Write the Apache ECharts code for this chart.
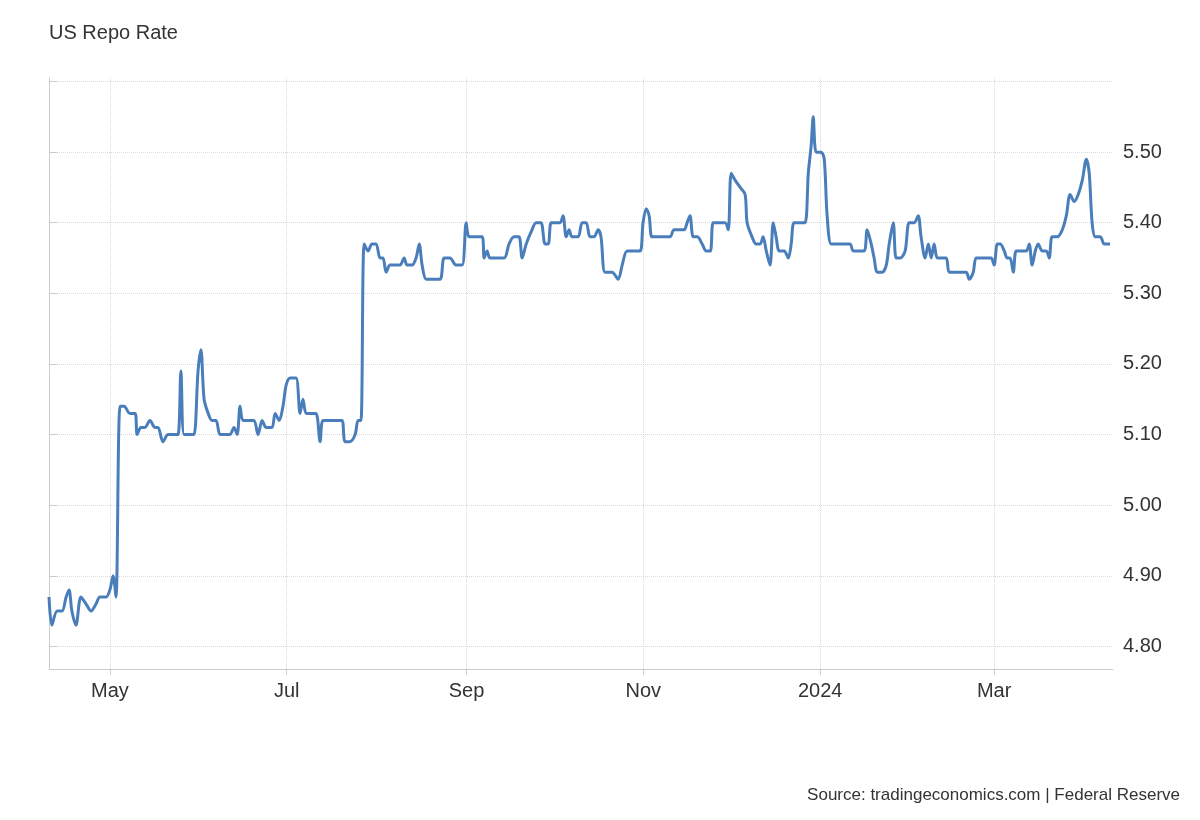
<!DOCTYPE html>
<html>
<head>
<meta charset="utf-8">
<script src="https://cdn.jsdelivr.net/npm/echarts@6/dist/echarts.min.js"></script>
<style>html,body{margin:0;background:#fff}#chart{width:1200px;height:820px}</style>
</head>
<body>
<div id="chart"></div>
<script>
// days since 2023-04-10
var days = [0,1.0,2.8,4.5,5.9,6.9,7.9,9.3,11.0,12.8,14.5,16.2,17.6,19.7,21.0,22.1,23.1,24.5,25.9,27.9,29.7,30.4,31.7,33.1,34.8,36.6,37.6,39.3,41.1,43.1,44.5,45.5,46.6,48.6,50.0,51.4,52.4,53.5,54.9,56.2,57.6,59.0,60.7,62.4,63.8,64.9,65.9,66.9,68.7,70.7,72.1,73.5,74.9,76.9,78.0,79.4,80.7,81.8,83.2,85.2,86.6,87.6,88.7,90.4,92.1,93.5,94.5,96.9,99.7,101.1,102.1,103.8,105.6,106.6,107.6,108.7,110.1,111.4,112.8,114.2,115.2,116.3,117.6,119.7,121.1,122.5,123.5,125.2,126.6,127.7,128.7,130.1,132.1,134.9,136.3,138.3,140.4,142.5,143.9,144.9,147.3,149.4,150.1,151.1,152.1,154.2,157.0,158.7,160.4,162.1,163.2,164.6,166.6,168.0,169.7,171.1,172.2,173.2,174.9,176.3,177.3,178.4,179.4,180.4,182.5,183.9,185.3,186.6,188.0,189.4,190.4,191.8,194.2,196.3,197.7,199.4,201.8,203.9,204.9,206.0,207.0,208.0,210.1,212.5,214.2,215.6,217.7,219.1,220.1,221.1,222.2,223.6,225.3,226.7,228.1,229.1,230.8,233.2,234.3,235.3,236.7,238.4,240.1,240.8,242.5,243.9,245.3,246.3,247.4,248.7,249.8,250.8,251.9,253.6,255.0,256.0,257.0,259.1,260.8,261.9,262.9,263.6,264.6,266.3,267.4,268.4,269.8,271.9,274.3,276.3,277.4,279.1,281.2,282.2,283.6,284.6,285.7,287.4,288.8,289.8,291.2,292.2,293.6,295.3,296.7,298.4,299.8,300.8,302.2,303.3,304.3,305.3,306.4,308.1,309.5,310.5,312.6,315.0,316.4,317.4,318.8,319.8,321.9,324.0,325.0,326.0,327.1,328.1,329.5,330.5,331.5,332.6,333.6,335.3,337.1,338.1,339.1,340.2,341.2,342.6,344.0,345.0,346.0,347.8,349.5,350.9,352.2,353.6,355.0,356.4,357.8,358.8,359.8,360.9,362.6,364.0,365.4,366.0];
var rates = [4.87,4.83,4.85,4.85,4.87,4.88,4.85,4.83,4.87,4.86,4.85,4.86,4.87,4.87,4.88,4.90,4.87,5.14,5.14,5.13,5.13,5.10,5.11,5.11,5.12,5.11,5.11,5.09,5.10,5.10,5.10,5.19,5.10,5.10,5.10,5.19,5.22,5.15,5.13,5.12,5.12,5.10,5.10,5.10,5.11,5.10,5.14,5.12,5.12,5.12,5.10,5.12,5.11,5.11,5.13,5.12,5.14,5.17,5.18,5.18,5.13,5.15,5.13,5.13,5.13,5.09,5.12,5.12,5.12,5.12,5.09,5.09,5.10,5.12,5.12,5.37,5.36,5.37,5.37,5.35,5.35,5.33,5.34,5.34,5.34,5.35,5.34,5.34,5.35,5.37,5.34,5.32,5.32,5.32,5.35,5.35,5.34,5.34,5.40,5.38,5.38,5.38,5.35,5.36,5.35,5.35,5.35,5.37,5.38,5.38,5.35,5.37,5.39,5.40,5.40,5.37,5.37,5.40,5.40,5.40,5.41,5.38,5.39,5.38,5.38,5.40,5.40,5.38,5.38,5.39,5.38,5.33,5.33,5.32,5.34,5.36,5.36,5.36,5.40,5.42,5.41,5.38,5.38,5.38,5.38,5.39,5.39,5.39,5.40,5.41,5.38,5.38,5.37,5.36,5.36,5.40,5.40,5.40,5.39,5.47,5.46,5.45,5.44,5.40,5.38,5.37,5.37,5.38,5.36,5.34,5.40,5.38,5.36,5.36,5.35,5.37,5.40,5.40,5.40,5.47,5.51,5.55,5.50,5.50,5.49,5.41,5.37,5.37,5.37,5.37,5.36,5.36,5.36,5.39,5.37,5.35,5.33,5.33,5.34,5.37,5.40,5.35,5.35,5.36,5.40,5.40,5.41,5.38,5.35,5.37,5.35,5.37,5.35,5.35,5.35,5.33,5.33,5.33,5.33,5.32,5.33,5.35,5.35,5.35,5.35,5.34,5.37,5.37,5.36,5.35,5.35,5.33,5.36,5.36,5.36,5.37,5.34,5.36,5.37,5.36,5.36,5.35,5.38,5.38,5.39,5.41,5.44,5.43,5.44,5.46,5.49,5.47,5.40,5.38,5.38,5.37,5.37,5.37];
// month ticks, as days since 2023-04-10
var monthDays = [21, 82, 144, 205, 266, 326];
var monthLabels = ['May', 'Jul', 'Sep', 'Nov', '2024', 'Mar'];
var yTicks = [4.8, 4.9, 5.0, 5.1, 5.2, 5.3, 5.4, 5.5];

var seriesData = days.map(function (d, i) { return [d, rates[i]]; });
var font = 'Arial, "Liberation Sans", sans-serif';

var chart = echarts.init(document.getElementById('chart'));
chart.setOption({
  animation: false,
  title: [{
    text: 'US Repo Rate', left: 44, top: 18,
    textStyle: { fontFamily: font, fontSize: 20, fontWeight: 'normal', color: '#333' }
  }, {
    text: 'Source: tradingeconomics.com | Federal Reserve', right: 15, top: 782,
    textStyle: { fontFamily: font, fontSize: 17, fontWeight: 'normal', color: '#333' }
  }],
  grid: { left: 49, right: 87, top: 78, bottom: 151 },
  xAxis: {
    type: 'value',
    min: 0, max: 367,
    axisLine: { lineStyle: { color: '#ccc' } },
    axisTick: { customValues: monthDays, length: 6, lineStyle: { color: '#ccc' } },
    axisLabel: {
      customValues: monthDays, fontFamily: font, fontSize: 20, color: '#333', margin: 12,
      formatter: function (v) { return monthLabels[monthDays.indexOf(Math.round(v))] || ''; }
    },
    splitLine: { show: true, lineStyle: { color: '#d9d9d9', type: 'dotted' } }
  },
  yAxis: {
    type: 'value', position: 'right',
    min: 4.768, max: 5.605,
    axisLine: { show: true, lineStyle: { color: '#ccc' } },
    axisTick: { show: true, customValues: yTicks.concat([5.6]), length: 8, lineStyle: { color: '#ccc' } },
    axisLabel: {
      customValues: yTicks, fontFamily: font, fontSize: 20, color: '#333', margin: 10,
      formatter: function (v) { return v.toFixed(2); }
    },
    splitLine: { show: true, lineStyle: { color: '#d9d9d9', type: 'dotted' } }
  },
  series: [{
    type: 'line', data: seriesData, showSymbol: false, smooth: 0.3,
    lineStyle: { color: '#4a7ebb', width: 3 }
  }]
});
</script>
</body>
</html>
